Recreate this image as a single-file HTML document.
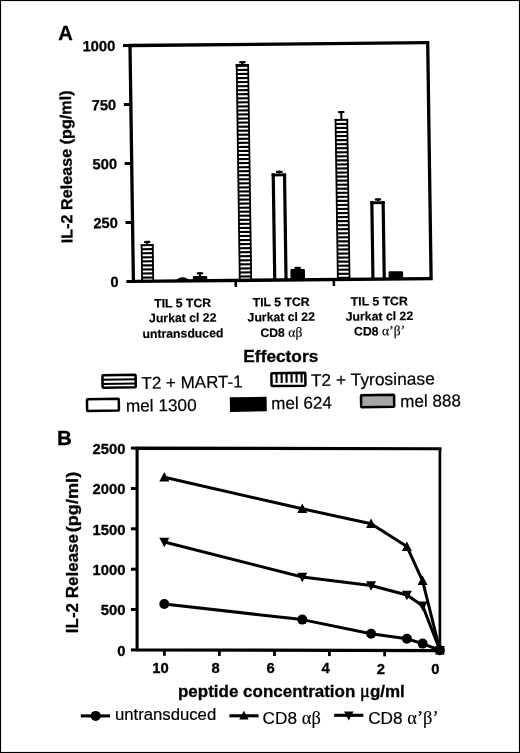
<!DOCTYPE html>
<html><head><meta charset="utf-8"><title>Figure</title>
<style>
html,body{margin:0;padding:0;background:#fff;}
body{width:520px;height:753px;overflow:hidden;}
svg{display:block;}
text{font-family:"Liberation Sans",sans-serif;fill:#000;stroke:#000;stroke-width:0.2px;}
.b{font-weight:bold;stroke:#000;stroke-width:0.3px;}
.g{font-family:"Liberation Serif",serif;font-weight:normal;stroke-width:0.15px;}
.gb{font-family:"Liberation Serif",serif;font-weight:bold;}
</style></head><body>
<svg width="520" height="753" viewBox="0 0 520 753">
<rect x="0" y="0" width="520" height="753" fill="#fff"/>
<rect x="0.5" y="0.5" width="519" height="752" fill="none" stroke="#000" stroke-width="1.15"/>

<text class="b" x="58.3" y="40" font-size="20.2">A</text>
<g transform="matrix(1 -0.0094 0.0144 1 130 45.5)">
<line x1="-7" y1="0.0" x2="0" y2="0.0" stroke="#000" stroke-width="3"/>
<line x1="-7" y1="59.0" x2="0" y2="59.0" stroke="#000" stroke-width="3"/>
<line x1="-7" y1="118.0" x2="0" y2="118.0" stroke="#000" stroke-width="3"/>
<line x1="-7" y1="176.9" x2="0" y2="176.9" stroke="#000" stroke-width="3"/>
<line x1="-7" y1="235.9" x2="0" y2="235.9" stroke="#000" stroke-width="3"/>
<line x1="102.3" y1="235.9" x2="102.3" y2="242.4" stroke="#000" stroke-width="2.6"/>
<line x1="200.4" y1="235.9" x2="200.4" y2="242.4" stroke="#000" stroke-width="2.6"/>
<rect x="7.85" y="198.80" width="12.9" height="37.10" fill="#fff"/>
<rect x="8.35" y="202.73" width="11.9" height="2.14" fill="#000"/>
<rect x="8.35" y="206.78" width="11.9" height="2.14" fill="#000"/>
<rect x="8.35" y="210.83" width="11.9" height="2.14" fill="#000"/>
<rect x="8.35" y="214.88" width="11.9" height="2.14" fill="#000"/>
<rect x="8.35" y="218.93" width="11.9" height="2.14" fill="#000"/>
<rect x="8.35" y="222.98" width="11.9" height="2.14" fill="#000"/>
<rect x="8.35" y="227.03" width="11.9" height="2.14" fill="#000"/>
<rect x="8.35" y="231.08" width="11.9" height="2.14" fill="#000"/>
<rect x="7.85" y="198.80" width="12.9" height="1.95" fill="#000"/>
<rect x="7.85" y="198.80" width="1.8" height="37.10" fill="#000"/>
<rect x="18.95" y="198.80" width="1.8" height="37.10" fill="#000"/>
<rect x="13.25" y="195.50" width="2.1" height="3.30" fill="#000"/>
<rect x="11.10" y="195.50" width="6.4" height="2.20" fill="#000" rx="0.6"/>
<path d="M41.8 235.9 Q45.3 232.3 49.3 232.3 Q53.3 232.3 56.8 235.9 Z" fill="#000"/>
<rect x="59.45" y="231.10" width="14.5" height="4.80" fill="#000" rx="1"/>
<rect x="65.65" y="227.30" width="2.1" height="3.80" fill="#000"/>
<rect x="63.50" y="227.30" width="6.4" height="2.20" fill="#000" rx="0.6"/>
<rect x="105.48" y="19.50" width="13.25" height="216.40" fill="#fff"/>
<rect x="105.98" y="24.43" width="12.25" height="2.14" fill="#000"/>
<rect x="105.98" y="28.48" width="12.25" height="2.14" fill="#000"/>
<rect x="105.98" y="32.53" width="12.25" height="2.14" fill="#000"/>
<rect x="105.98" y="36.58" width="12.25" height="2.14" fill="#000"/>
<rect x="105.98" y="40.63" width="12.25" height="2.14" fill="#000"/>
<rect x="105.98" y="44.68" width="12.25" height="2.14" fill="#000"/>
<rect x="105.98" y="48.73" width="12.25" height="2.14" fill="#000"/>
<rect x="105.98" y="52.78" width="12.25" height="2.14" fill="#000"/>
<rect x="105.98" y="56.83" width="12.25" height="2.14" fill="#000"/>
<rect x="105.98" y="60.88" width="12.25" height="2.14" fill="#000"/>
<rect x="105.98" y="64.93" width="12.25" height="2.14" fill="#000"/>
<rect x="105.98" y="68.98" width="12.25" height="2.14" fill="#000"/>
<rect x="105.98" y="73.03" width="12.25" height="2.14" fill="#000"/>
<rect x="105.98" y="77.08" width="12.25" height="2.14" fill="#000"/>
<rect x="105.98" y="81.13" width="12.25" height="2.14" fill="#000"/>
<rect x="105.98" y="85.18" width="12.25" height="2.14" fill="#000"/>
<rect x="105.98" y="89.23" width="12.25" height="2.14" fill="#000"/>
<rect x="105.98" y="93.28" width="12.25" height="2.14" fill="#000"/>
<rect x="105.98" y="97.33" width="12.25" height="2.14" fill="#000"/>
<rect x="105.98" y="101.38" width="12.25" height="2.14" fill="#000"/>
<rect x="105.98" y="105.43" width="12.25" height="2.14" fill="#000"/>
<rect x="105.98" y="109.48" width="12.25" height="2.14" fill="#000"/>
<rect x="105.98" y="113.53" width="12.25" height="2.14" fill="#000"/>
<rect x="105.98" y="117.58" width="12.25" height="2.14" fill="#000"/>
<rect x="105.98" y="121.63" width="12.25" height="2.14" fill="#000"/>
<rect x="105.98" y="125.68" width="12.25" height="2.14" fill="#000"/>
<rect x="105.98" y="129.73" width="12.25" height="2.14" fill="#000"/>
<rect x="105.98" y="133.78" width="12.25" height="2.14" fill="#000"/>
<rect x="105.98" y="137.83" width="12.25" height="2.14" fill="#000"/>
<rect x="105.98" y="141.88" width="12.25" height="2.14" fill="#000"/>
<rect x="105.98" y="145.93" width="12.25" height="2.14" fill="#000"/>
<rect x="105.98" y="149.98" width="12.25" height="2.14" fill="#000"/>
<rect x="105.98" y="154.03" width="12.25" height="2.14" fill="#000"/>
<rect x="105.98" y="158.08" width="12.25" height="2.14" fill="#000"/>
<rect x="105.98" y="162.13" width="12.25" height="2.14" fill="#000"/>
<rect x="105.98" y="166.18" width="12.25" height="2.14" fill="#000"/>
<rect x="105.98" y="170.23" width="12.25" height="2.14" fill="#000"/>
<rect x="105.98" y="174.28" width="12.25" height="2.14" fill="#000"/>
<rect x="105.98" y="178.33" width="12.25" height="2.14" fill="#000"/>
<rect x="105.98" y="182.38" width="12.25" height="2.14" fill="#000"/>
<rect x="105.98" y="186.43" width="12.25" height="2.14" fill="#000"/>
<rect x="105.98" y="190.48" width="12.25" height="2.14" fill="#000"/>
<rect x="105.98" y="194.53" width="12.25" height="2.14" fill="#000"/>
<rect x="105.98" y="198.58" width="12.25" height="2.14" fill="#000"/>
<rect x="105.98" y="202.63" width="12.25" height="2.14" fill="#000"/>
<rect x="105.98" y="206.68" width="12.25" height="2.14" fill="#000"/>
<rect x="105.98" y="210.73" width="12.25" height="2.14" fill="#000"/>
<rect x="105.98" y="214.78" width="12.25" height="2.14" fill="#000"/>
<rect x="105.98" y="218.83" width="12.25" height="2.14" fill="#000"/>
<rect x="105.98" y="222.88" width="12.25" height="2.14" fill="#000"/>
<rect x="105.98" y="226.93" width="12.25" height="2.14" fill="#000"/>
<rect x="105.98" y="230.98" width="12.25" height="2.14" fill="#000"/>
<rect x="105.48" y="19.50" width="13.25" height="2.95" fill="#000"/>
<rect x="105.48" y="19.50" width="1.8" height="216.40" fill="#000"/>
<rect x="116.93" y="19.50" width="1.8" height="216.40" fill="#000"/>
<rect x="111.05" y="16.70" width="2.1" height="2.80" fill="#000"/>
<rect x="108.90" y="16.70" width="6.4" height="2.20" fill="#000" rx="0.6"/>
<rect x="139.75" y="129.40" width="14.5" height="106.50" fill="#fff"/>
<rect x="139.75" y="129.40" width="3.2" height="106.50" fill="#000"/>
<rect x="151.05" y="129.40" width="3.2" height="106.50" fill="#000"/>
<rect x="139.75" y="129.40" width="14.5" height="2.90" fill="#000"/>
<rect x="146.45" y="126.70" width="2.1" height="2.70" fill="#000"/>
<rect x="144.30" y="126.70" width="6.4" height="2.20" fill="#000" rx="0.6"/>
<rect x="157.15" y="225.00" width="14.5" height="10.90" fill="#000" rx="1"/>
<rect x="161.20" y="222.80" width="6.4" height="2.20" fill="#000" rx="0.6"/>
<rect x="203.55" y="75.40" width="13.5" height="160.50" fill="#fff"/>
<rect x="204.05" y="79.33" width="12.5" height="2.14" fill="#000"/>
<rect x="204.05" y="83.38" width="12.5" height="2.14" fill="#000"/>
<rect x="204.05" y="87.43" width="12.5" height="2.14" fill="#000"/>
<rect x="204.05" y="91.48" width="12.5" height="2.14" fill="#000"/>
<rect x="204.05" y="95.53" width="12.5" height="2.14" fill="#000"/>
<rect x="204.05" y="99.58" width="12.5" height="2.14" fill="#000"/>
<rect x="204.05" y="103.63" width="12.5" height="2.14" fill="#000"/>
<rect x="204.05" y="107.68" width="12.5" height="2.14" fill="#000"/>
<rect x="204.05" y="111.73" width="12.5" height="2.14" fill="#000"/>
<rect x="204.05" y="115.78" width="12.5" height="2.14" fill="#000"/>
<rect x="204.05" y="119.83" width="12.5" height="2.14" fill="#000"/>
<rect x="204.05" y="123.88" width="12.5" height="2.14" fill="#000"/>
<rect x="204.05" y="127.93" width="12.5" height="2.14" fill="#000"/>
<rect x="204.05" y="131.98" width="12.5" height="2.14" fill="#000"/>
<rect x="204.05" y="136.03" width="12.5" height="2.14" fill="#000"/>
<rect x="204.05" y="140.08" width="12.5" height="2.14" fill="#000"/>
<rect x="204.05" y="144.13" width="12.5" height="2.14" fill="#000"/>
<rect x="204.05" y="148.18" width="12.5" height="2.14" fill="#000"/>
<rect x="204.05" y="152.23" width="12.5" height="2.14" fill="#000"/>
<rect x="204.05" y="156.28" width="12.5" height="2.14" fill="#000"/>
<rect x="204.05" y="160.33" width="12.5" height="2.14" fill="#000"/>
<rect x="204.05" y="164.38" width="12.5" height="2.14" fill="#000"/>
<rect x="204.05" y="168.43" width="12.5" height="2.14" fill="#000"/>
<rect x="204.05" y="172.48" width="12.5" height="2.14" fill="#000"/>
<rect x="204.05" y="176.53" width="12.5" height="2.14" fill="#000"/>
<rect x="204.05" y="180.58" width="12.5" height="2.14" fill="#000"/>
<rect x="204.05" y="184.63" width="12.5" height="2.14" fill="#000"/>
<rect x="204.05" y="188.68" width="12.5" height="2.14" fill="#000"/>
<rect x="204.05" y="192.73" width="12.5" height="2.14" fill="#000"/>
<rect x="204.05" y="196.78" width="12.5" height="2.14" fill="#000"/>
<rect x="204.05" y="200.83" width="12.5" height="2.14" fill="#000"/>
<rect x="204.05" y="204.88" width="12.5" height="2.14" fill="#000"/>
<rect x="204.05" y="208.93" width="12.5" height="2.14" fill="#000"/>
<rect x="204.05" y="212.98" width="12.5" height="2.14" fill="#000"/>
<rect x="204.05" y="217.03" width="12.5" height="2.14" fill="#000"/>
<rect x="204.05" y="221.08" width="12.5" height="2.14" fill="#000"/>
<rect x="204.05" y="225.13" width="12.5" height="2.14" fill="#000"/>
<rect x="204.05" y="229.18" width="12.5" height="2.14" fill="#000"/>
<rect x="204.05" y="233.23" width="12.5" height="2.14" fill="#000"/>
<rect x="203.55" y="75.40" width="13.5" height="1.95" fill="#000"/>
<rect x="203.55" y="75.40" width="1.8" height="160.50" fill="#000"/>
<rect x="215.25" y="75.40" width="1.8" height="160.50" fill="#000"/>
<rect x="209.25" y="67.40" width="2.1" height="8.00" fill="#000"/>
<rect x="207.10" y="67.40" width="6.4" height="2.20" fill="#000" rx="0.6"/>
<rect x="237.95" y="158.00" width="14.5" height="77.90" fill="#fff"/>
<rect x="237.95" y="158.00" width="3.2" height="77.90" fill="#000"/>
<rect x="249.25" y="158.00" width="3.2" height="77.90" fill="#000"/>
<rect x="237.95" y="158.00" width="14.5" height="2.90" fill="#000"/>
<rect x="244.65" y="155.20" width="2.1" height="2.80" fill="#000"/>
<rect x="242.50" y="155.20" width="6.4" height="2.20" fill="#000" rx="0.6"/>
<rect x="255.25" y="228.20" width="14.5" height="7.70" fill="#000" rx="1"/>
<rect x="0" y="0" width="297.7" height="235.9" fill="none" stroke="#000" stroke-width="3.3"/>
<text class="b" x="-14.7" y="5.4" font-size="14.7" text-anchor="end">1000</text>
<text class="b" x="-14.7" y="64.4" font-size="14.7" text-anchor="end">750</text>
<text class="b" x="-14.7" y="123.4" font-size="14.7" text-anchor="end">500</text>
<text class="b" x="-14.7" y="182.3" font-size="14.7" text-anchor="end">250</text>
<text class="b" x="-14.7" y="241.3" font-size="14.7" text-anchor="end">0</text>
</g>
<text class="b" font-size="15.9" transform="translate(72.5 243.2) rotate(-90.6)" textLength="152.8" lengthAdjust="spacingAndGlyphs">IL-2 Release (pg/ml)</text>
<g class="b" font-size="12.25" text-anchor="middle" transform="rotate(-0.6 182.8 322.0)">
<text x="182.8" y="307.3">TIL 5 TCR</text>
<text x="182.8" y="322.0">Jurkat cl 22</text>
<text x="182.8" y="337.6">untransduced</text>
</g>
<g class="b" font-size="12.25" text-anchor="middle" transform="rotate(-0.6 281.3 321.1)">
<text x="281.3" y="306.2">TIL 5 TCR</text>
<text x="281.3" y="321.1">Jurkat cl 22</text>
<text x="281.3" y="336.8">CD8 <tspan class="g" font-size="13.7">αβ</tspan></text>
</g>
<g class="b" font-size="12.25" text-anchor="middle" transform="rotate(-0.6 379.5 320.4)">
<text x="379.5" y="305.4">TIL 5 TCR</text>
<text x="379.5" y="320.4">Jurkat cl 22</text>
<text x="379.5" y="335.3">CD8 <tspan class="g" font-size="13.7">α’β’</tspan></text>
</g>
<text class="b" x="280.8" y="361.7" font-size="17.3" text-anchor="middle">Effectors</text>
<g transform="translate(101.2 374.0) rotate(-0.85)">
<rect x="1.25" y="1.25" width="33.1" height="12.5" fill="#fff" stroke="#000" stroke-width="2.5" rx="0.8"/>
<rect x="0" y="4.7" width="35.6" height="2" fill="#000"/><rect x="0" y="9.0" width="35.6" height="2" fill="#000"/>
</g>
<text transform="translate(141.6 388.9) rotate(-0.85)" font-size="17.2" textLength="101.0" lengthAdjust="spacingAndGlyphs">T2 + MART-1</text>
<g transform="translate(270.1 372.1) rotate(-0.85)">
<rect x="1.25" y="1.25" width="33.9" height="12.8" fill="#fff" stroke="#000" stroke-width="2.5" rx="0.8"/>
<rect x="5.3" y="1" width="2.1" height="10.0" fill="#000"/><rect x="10.4" y="1" width="2.1" height="10.0" fill="#000"/><rect x="15.3" y="1" width="2.1" height="10.0" fill="#000"/><rect x="20.3" y="1" width="2.1" height="10.0" fill="#000"/><rect x="25.3" y="1" width="2.1" height="10.0" fill="#000"/><rect x="30.3" y="1" width="2.1" height="10.0" fill="#000"/>
</g>
<text transform="translate(310.9 386.2) rotate(-0.85)" font-size="17.2" textLength="124.0" lengthAdjust="spacingAndGlyphs">T2 + Tyrosinase</text>
<g transform="translate(85.7 398.1) rotate(-0.85)">
<rect x="1.25" y="1.25" width="31.8" height="11.7" fill="#fff" stroke="#000" stroke-width="2.5" rx="0.8"/>

</g>
<text transform="translate(126.0 411.8) rotate(-0.85)" font-size="17.2">mel 1300</text>
<g transform="translate(229.8 397.3) rotate(-0.85)">
<rect x="0" y="0" width="36.8" height="14.6" fill="#000"/>

</g>
<text transform="translate(271.3 409.3) rotate(-0.85)" font-size="17.2" textLength="60.6" lengthAdjust="spacingAndGlyphs">mel 624</text>
<g transform="translate(359.7 394.0) rotate(-0.85)">
<rect x="1.25" y="1.25" width="33.1" height="12.1" fill="#a6a6a6" stroke="#000" stroke-width="2.5" rx="0.8"/>

</g>
<text transform="translate(400.3 407.2) rotate(-0.85)" font-size="17.2" textLength="60.8" lengthAdjust="spacingAndGlyphs">mel 888</text>
<text class="b" x="57.0" y="444.6" font-size="20.5">B</text>
<polyline points="439.9,448.7 137.1,448.1 137.1,649.9 439.9,650.6" fill="none" stroke="#000" stroke-width="3.1" stroke-linecap="square"/>
<line x1="439.9" y1="448.7" x2="439.9" y2="650.6" stroke="#000" stroke-width="2.7"/>
<line x1="130.9" y1="448.1" x2="137.1" y2="448.1" stroke="#000" stroke-width="3"/>
<text class="b" x="125.5" y="453.9" font-size="14.8" text-anchor="end">2500</text>
<line x1="130.9" y1="488.5" x2="137.1" y2="488.5" stroke="#000" stroke-width="3"/>
<text class="b" x="125.5" y="494.3" font-size="14.8" text-anchor="end">2000</text>
<line x1="130.9" y1="528.8" x2="137.1" y2="528.8" stroke="#000" stroke-width="3"/>
<text class="b" x="125.5" y="534.6" font-size="14.8" text-anchor="end">1500</text>
<line x1="130.9" y1="569.2" x2="137.1" y2="569.2" stroke="#000" stroke-width="3"/>
<text class="b" x="125.5" y="575.0" font-size="14.8" text-anchor="end">1000</text>
<line x1="130.9" y1="609.5" x2="137.1" y2="609.5" stroke="#000" stroke-width="3"/>
<text class="b" x="125.5" y="615.3" font-size="14.8" text-anchor="end">500</text>
<line x1="130.9" y1="649.9" x2="137.1" y2="649.9" stroke="#000" stroke-width="3"/>
<text class="b" x="125.5" y="655.7" font-size="14.8" text-anchor="end">0</text>
<line x1="164.4" y1="650.0" x2="164.4" y2="655.8" stroke="#000" stroke-width="2.8"/>
<text class="b" x="160.6" y="673.1" font-size="14.8" text-anchor="middle">10</text>
<line x1="219.4" y1="650.1" x2="219.4" y2="655.9" stroke="#000" stroke-width="2.8"/>
<text class="b" x="215.6" y="673.2" font-size="14.8" text-anchor="middle">8</text>
<line x1="274.5" y1="650.2" x2="274.5" y2="656.0" stroke="#000" stroke-width="2.8"/>
<text class="b" x="270.7" y="673.3" font-size="14.8" text-anchor="middle">6</text>
<line x1="329.4" y1="650.3" x2="329.4" y2="656.1" stroke="#000" stroke-width="2.8"/>
<text class="b" x="325.6" y="673.4" font-size="14.8" text-anchor="middle">4</text>
<line x1="384.6" y1="650.5" x2="384.6" y2="656.3" stroke="#000" stroke-width="2.8"/>
<text class="b" x="380.8" y="673.5" font-size="14.8" text-anchor="middle">2</text>
<text class="b" x="435.4" y="673.6" font-size="14.8" text-anchor="middle">0</text>
<text class="b" font-size="17" transform="translate(78.2 633.2) rotate(-90)">IL-2 Release</text>
<text class="b" font-size="17" transform="translate(78.3 532.3) rotate(-90)" textLength="60.5" lengthAdjust="spacingAndGlyphs">(pg/ml)</text>
<polyline points="164.3,477.2 302.3,508.8 371.1,523.8 406.9,546.6 422.6,580.9 439.9,650.3" fill="none" stroke="#000" stroke-width="3.0" stroke-linejoin="round"/>
<polyline points="164.3,542 302.3,577 371.1,585.5 406.9,595 422.6,605.7 439.9,650.3" fill="none" stroke="#000" stroke-width="3.0" stroke-linejoin="round"/>
<polyline points="164.3,604.0 302.3,619.6 371.1,633.8 406.9,638.7 422.6,643.6 439.9,650.3" fill="none" stroke="#000" stroke-width="3.0" stroke-linejoin="round"/>
<polygon points="159.3,481.4 169.3,481.4 164.3,471.9" fill="#000"/>
<polygon points="297.3,513.0 307.3,513.0 302.3,503.6" fill="#000"/>
<polygon points="366.1,528.0 376.1,528.0 371.1,518.5" fill="#000"/>
<polygon points="401.9,550.9 411.9,550.9 406.9,541.4" fill="#000"/>
<polygon points="417.6,585.1 427.6,585.1 422.6,575.6" fill="#000"/>
<polygon points="434.9,654.5 444.9,654.5 439.9,645.0" fill="#000"/>
<polygon points="159.3,537.8 169.3,537.8 164.3,547.2" fill="#000"/>
<polygon points="297.3,572.8 307.3,572.8 302.3,582.2" fill="#000"/>
<polygon points="366.1,581.2 376.1,581.2 371.1,590.8" fill="#000"/>
<polygon points="401.9,590.8 411.9,590.8 406.9,600.2" fill="#000"/>
<polygon points="417.6,601.5 427.6,601.5 422.6,611.0" fill="#000"/>
<polygon points="434.9,646.0 444.9,646.0 439.9,655.5" fill="#000"/>
<circle cx="164.3" cy="604.0" r="5.0" fill="#000"/>
<circle cx="302.3" cy="619.6" r="5.0" fill="#000"/>
<circle cx="371.1" cy="633.8" r="5.0" fill="#000"/>
<circle cx="406.9" cy="638.7" r="5.0" fill="#000"/>
<circle cx="422.6" cy="643.6" r="5.0" fill="#000"/>
<circle cx="439.9" cy="650.3" r="5.0" fill="#000"/>
<text class="b" x="178.0" y="696.8" font-size="17.1" textLength="226.8" lengthAdjust="spacingAndGlyphs">peptide concentration <tspan class="g" font-size="18.5" style="stroke-width:0.45px">μ</tspan>g/ml</text>
<line x1="80.8" y1="715.9" x2="110" y2="715.9" stroke="#000" stroke-width="3.1"/><circle cx="95.7" cy="715.9" r="5.0" fill="#000"/>
<text x="114.9" y="719.5" font-size="17.2" textLength="101.3" lengthAdjust="spacingAndGlyphs">untransduced</text>
<line x1="229.4" y1="715.8" x2="258.6" y2="715.8" stroke="#000" stroke-width="3.1"/>
<polygon points="239.20000000000002,719.6 248.6,719.6 243.9,710.7" fill="#000"/>
<text x="262.6" y="723.6" font-size="17.2">CD8 <tspan class="g" font-size="18.4">αβ</tspan></text>
<line x1="334.2" y1="715.3" x2="363.4" y2="715.3" stroke="#000" stroke-width="3.1"/>
<polygon points="344.1,711.6 353.5,711.6 348.8,720.5" fill="#000"/>
<text x="368.2" y="723.9" font-size="17.2">CD8 <tspan class="g" font-size="18.4">α’β’</tspan></text>
</svg></body></html>
